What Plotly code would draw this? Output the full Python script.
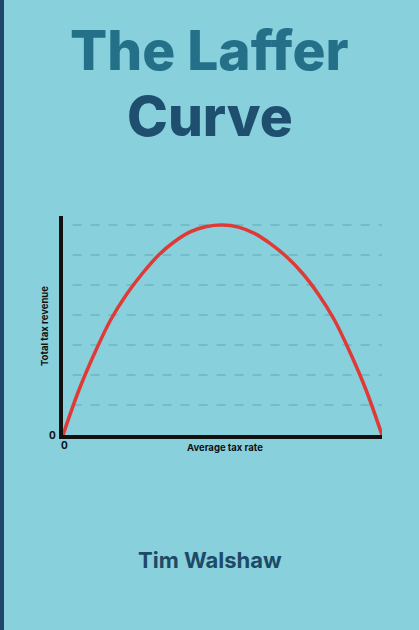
import plotly.graph_objects as go

tax_rate = [0, 0.05, 0.1, 0.15, 0.2, 0.25, 0.3, 0.35, 0.4, 0.45, 0.5, 0.55, 0.6, 0.65, 0.7, 0.75, 0.8, 0.85, 0.9, 0.95, 1.0]
revenue = [0, 1.5, 2.75, 3.85, 4.7, 5.4, 6.0, 6.45, 6.78, 6.95, 7.0, 6.93, 6.72, 6.38, 5.95, 5.4, 4.7, 3.85, 2.75, 1.5, 0]
grid_levels = [1, 2, 3, 4, 5, 6, 7]

W, H = 419, 630
L, R, T, B = 63, 37, 216, 195

fig = go.Figure()
fig.add_trace(go.Scatter(x=tax_rate, y=revenue, mode="lines", line=dict(color="#e03a36", width=3.5, shape="spline"), hoverinfo="skip"))

shapes = []
for g in grid_levels:
    shapes.append(dict(type="line", xref="x", yref="y", x0=0.03, x1=1.0, y0=g, y1=g, line=dict(color="#5fa9b8", width=1, dash="dash"), layer="below"))
shapes.append(dict(type="rect", xref="paper", yref="paper", x0=-L/ (W-L-R), x1=(-L+4)/(W-L-R), y0=-B/(H-T-B), y1=(H-B)/(H-T-B), fillcolor="#1f4868", line=dict(width=0)))

ann = [
    dict(text="The Laffer", x=0.5, y=50, font=dict(size=55, color="#247089", family="Inter", weight=800)),
    dict(text="Curve", x=0.5, y=116, font=dict(size=55, color="#1f4f6f", family="Inter", weight=800)),
    dict(text="Tim Walshaw", x=0.5, y=560, font=dict(size=22, color="#1d4a66", family="Inter", weight=700)),
    dict(text="<b>Average tax rate</b>", x=225/W, y=448, font=dict(size=9.5, color="#111", family="Inter")),
    dict(text="<b>Total tax revenue</b>", x=44/W, y=326, textangle=-90, font=dict(size=9.5, color="#111", family="Inter")),
    dict(text="<b>0</b>", x=53/W, y=435, font=dict(size=10, color="#111", family="Inter")),
    dict(text="<b>0</b>", x=64/W, y=445, font=dict(size=10, color="#111", family="Inter")),
]
annotations = []
for a in ann:
    a2 = dict(a)
    px = a2.pop("x"); py = a2.pop("y")
    a2.update(xref="paper", yref="paper", showarrow=False,
              x=(px * W - L) / (W - L - R), y=(H - B - py) / (H - T - B),
              xanchor="center", yanchor="middle")
    annotations.append(a2)

fig.update_layout(
    width=W, height=H, margin=dict(l=L, r=R, t=T, b=B),
    paper_bgcolor="#87d0dc", plot_bgcolor="#87d0dc", showlegend=False,
    xaxis=dict(range=[0, 1.0], showgrid=False, zeroline=False, showticklabels=False, showline=True, linecolor="#111", linewidth=4),
    yaxis=dict(range=[0, 7.3], showgrid=False, zeroline=False, showticklabels=False, showline=True, linecolor="#111", linewidth=4),
    shapes=shapes, annotations=annotations,
)
fig.write_html("out.html", config={"displayModeBar": False}, post_script="document.body.style.margin='0';")
